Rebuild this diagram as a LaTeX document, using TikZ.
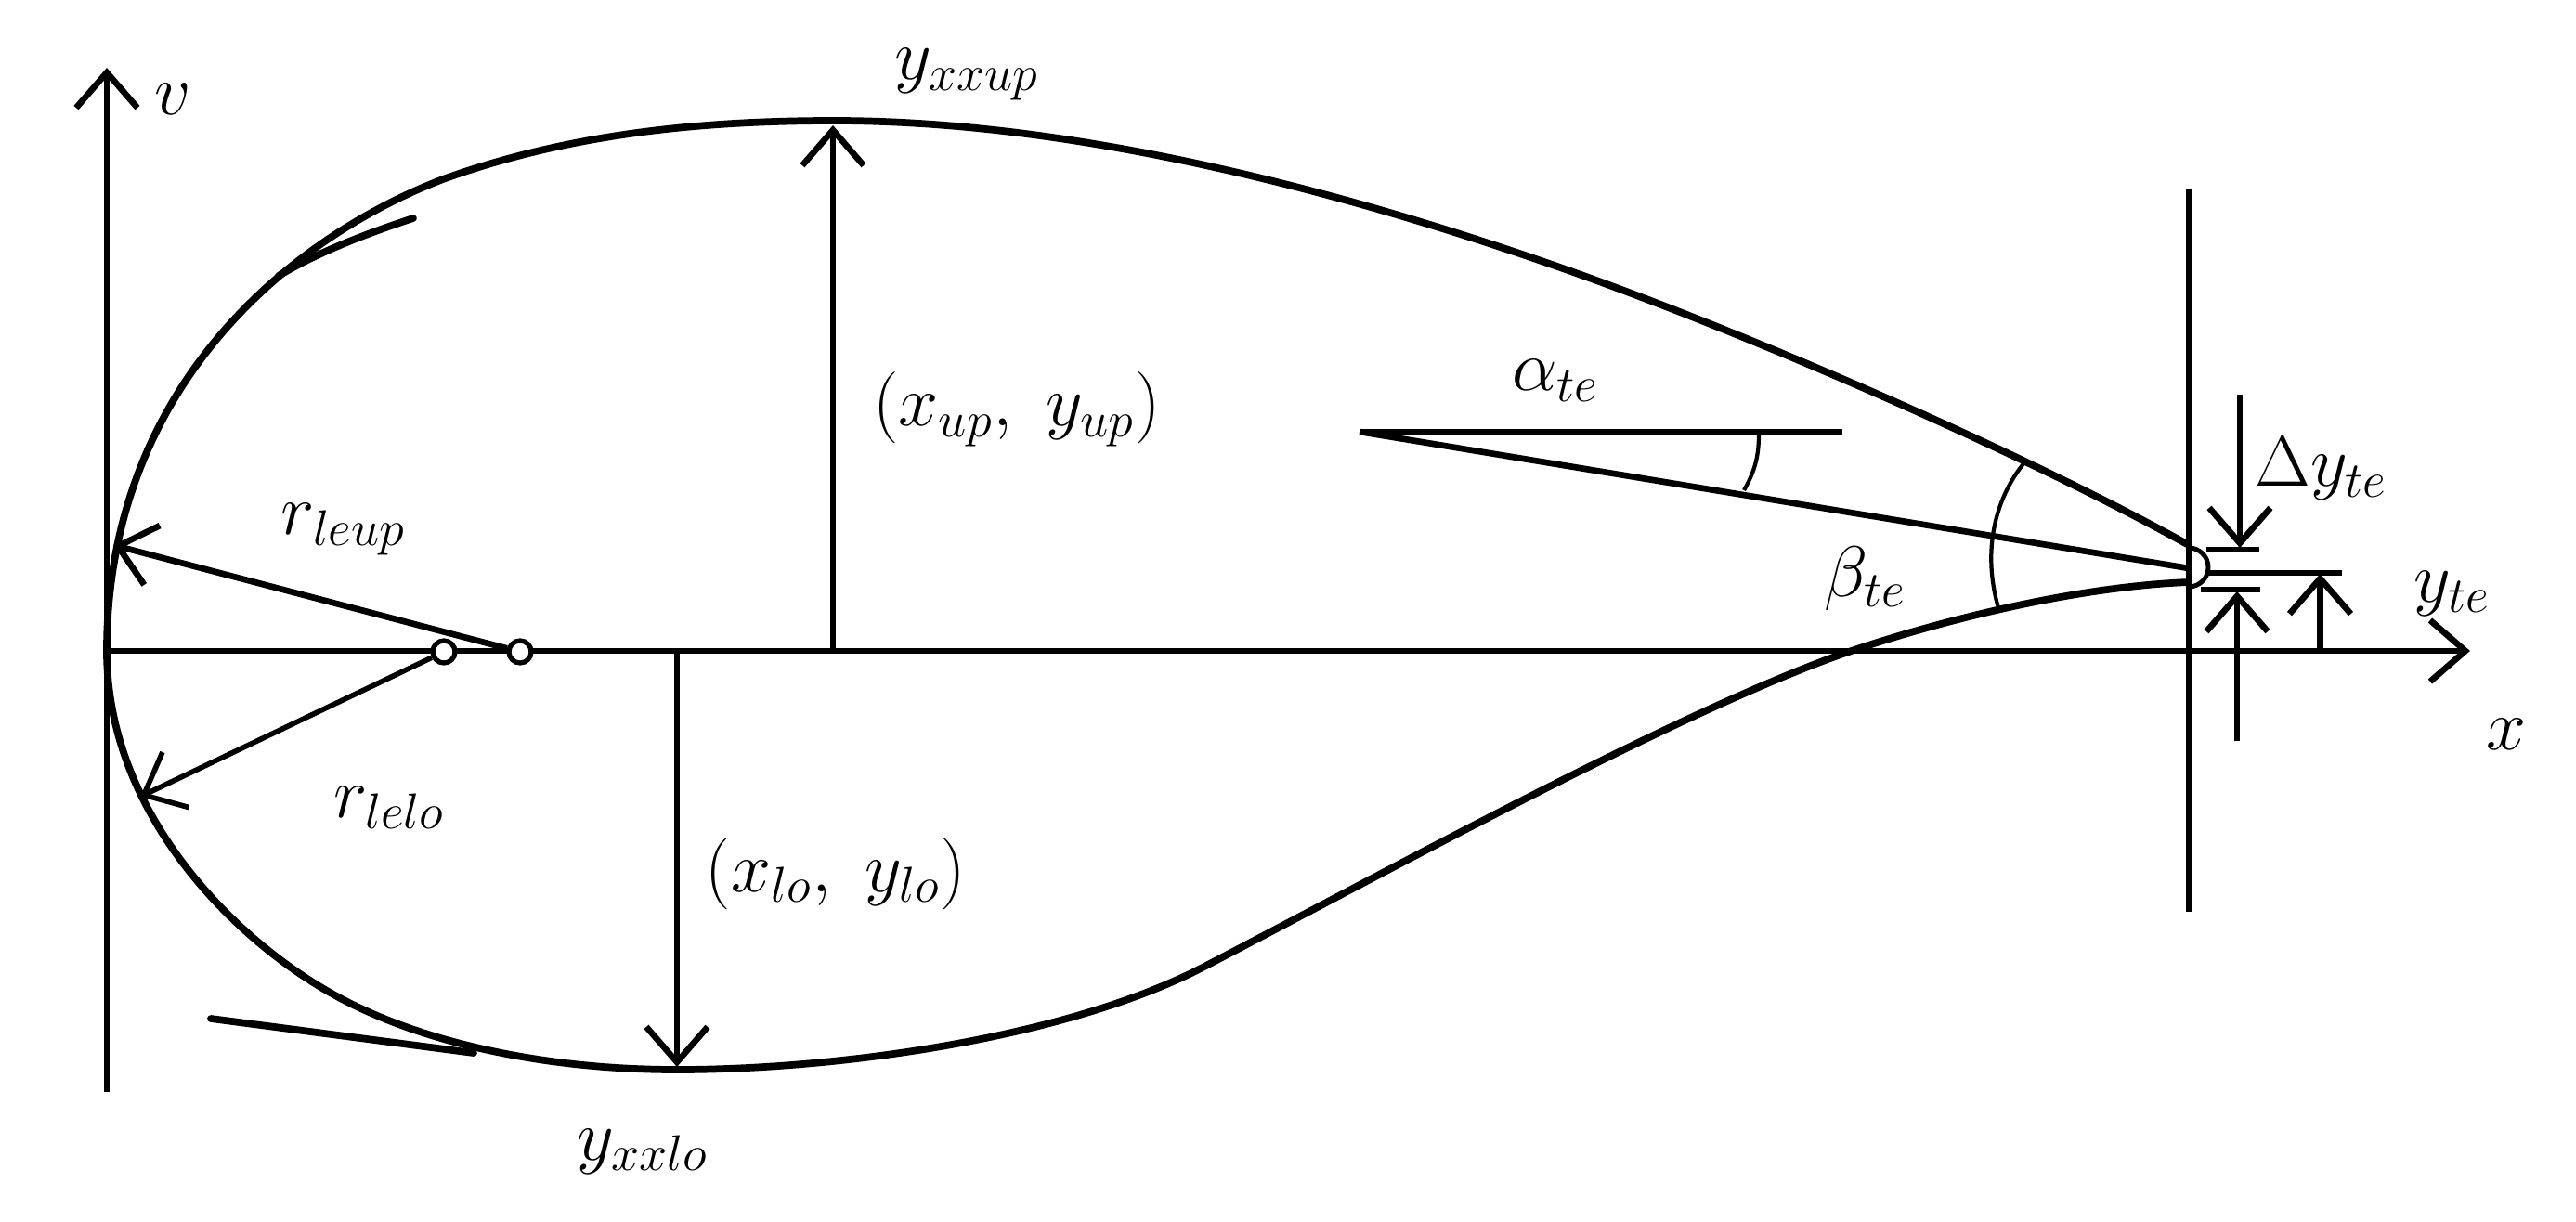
\documentclass[tikz,border=0pt]{standalone}
\usepackage{fix-cm}
\usetikzlibrary{arrows.meta}
\begin{document}
\begin{tikzpicture}[>={Straight Barb[length=3.8mm,width=6.6mm]},
  axisline/.style={line width=1.9pt},
  profile/.style={line width=2.2pt,line cap=round},
  hub/.style={circle,draw,line width=1.5pt,fill=white,inner sep=0pt,minimum size=2.4mm},
  lbl/.style={font=\fontsize{22}{26}\selectfont,inner sep=0pt}]
\useasboundingbox (0,0) rectangle (27.74,13.15);
\coordinate (lead) at (1.15,6.14);
\coordinate (axistop) at (1.15,12.42);
\coordinate (axisbot) at (1.15,1.39);
\coordinate (axisend) at (26.60,6.14);
\coordinate (slantfrom) at (14.64,8.50);
\coordinate (slantto) at (23.57,7.03);
\coordinate (horizto) at (19.84,8.50);
\coordinate (upfoot) at (8.97,6.14);
\coordinate (uptip) at (8.97,11.80);
\coordinate (lofoot) at (7.29,6.14);
\coordinate (lotip) at (7.29,1.66);
\coordinate (leupt) at (1.22,7.28);
\coordinate (lelot) at (1.51,4.57);
\draw[axisline,->] (axisbot) -- (axistop);
\draw[axisline,->] (lead) -- (axisend);
\draw[axisline] (23.575,11.12) -- (23.575,3.33);
\draw[profile] (lead) .. controls (1.15,9.0) and (3.15,10.6) .. (4.77,11.22)
  .. controls (6.1,11.70) and (7.5,11.85) .. (8.98,11.85)
  .. controls (11.5,11.85) and (14.3,11.145) .. (16.80,10.27)
  .. controls (18.8,9.57) and (21.77,8.28) .. (23.57,7.28);
\draw[profile] (lead) .. controls (1.15,4.4) and (2.5,3.07) .. (3.52,2.48)
  .. controls (4.5,1.91) and (5.9,1.63) .. (7.29,1.63)
  .. controls (9.0,1.63) and (11.45,1.96) .. (12.95,2.73)
  .. controls (14.95,3.77) and (18.0,5.45) .. (19.82,6.10)
  .. controls (20.8,6.44) and (22.3,6.83) .. (23.57,6.88);
\draw[profile] (3.0,10.18) .. controls (3.4,10.42) and (3.9,10.62) .. (4.45,10.80);
\draw[profile] (2.27,2.18) -- (5.1,1.81);
\draw[axisline,->] (upfoot) -- (uptip);
\draw[axisline,->] (lofoot) -- (lotip);
\node[hub] (cup) at (5.60,6.13) {};
\node[hub] (clo) at (4.78,6.13) {};
\draw[axisline,->] (cup) -- (leupt);
\draw[line width=1.6pt,->] (clo) -- (lelot);
\draw[axisline] (slantfrom) -- (horizto);
\draw[axisline] (slantfrom) -- (slantto);
\draw[line width=1.2pt] (18.94,8.47) .. controls (18.94,8.20) and (18.88,8.05) .. (18.78,7.87);
\draw[line width=1.2pt] (21.81,8.18) .. controls (21.45,7.75) and (21.35,7.15) .. (21.53,6.57);
\draw[line width=1.4pt] (23.57,7.25) arc (90:-90:0.21);
\draw[axisline] (23.76,7.23) -- (24.33,7.23);
\draw[axisline] (23.76,6.98) -- (25.22,6.98);
\draw[axisline] (23.70,6.80) -- (24.34,6.80);
\draw[axisline,->] (24.12,8.90) -- (24.12,7.25);
\draw[axisline,->] (24.09,5.17) -- (24.09,6.78);
\draw[axisline,->] (24.985,6.14) -- (24.985,6.97);
\node[lbl] (vlab) at (1.86,12.08) {$v$};
\node[lbl] (xxup) at (10.41,12.35) {$y_{xxup}$};
\node[lbl] (xyup) at (10.95,8.74) {$\bigl(x_{up},\ y_{up}\bigr)$};
\node[lbl] (xylo) at (9.00,3.74) {$\bigl(x_{lo},\ y_{lo}\bigr)$};
\node[lbl] (xxlo) at (6.92,0.75) {$y_{xxlo}$};
\node[lbl] (rup) at (3.70,7.45) {$r_{leup}$};
\node[lbl] (rlo) at (4.19,4.45) {$r_{lelo}$};
\node[lbl] (alab) at (16.75,9.05) {$\alpha_{te}$};
\node[lbl] (blab) at (20.09,6.92) {$\beta_{te}$};
\node[lbl] (dylab) at (25.00,8.10) {$\Delta y_{te}$};
\node[lbl] (ylab) at (26.41,6.76) {$y_{te}$};
\node[lbl] (xlab) at (26.99,5.24) {$x$};
\end{tikzpicture}
\end{document}
